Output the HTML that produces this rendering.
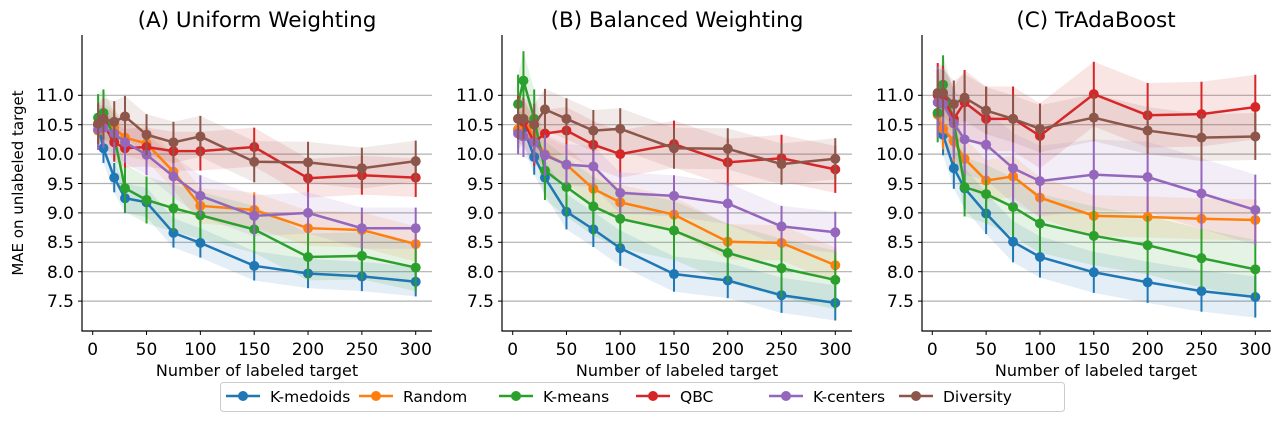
<!DOCTYPE html>
<html><head><meta charset="utf-8"><style>
html,body{margin:0;padding:0;background:#fff}
svg{display:block;font-family:"DejaVu Sans","Liberation Sans",sans-serif}
</style></head><body>
<svg id="s" width="1287" height="426" viewBox="0 0 1287 426" xmlns="http://www.w3.org/2000/svg">
<g id="grid"></g>
<g id="data"></g>
<g id="axes" stroke="#000" stroke-width="1.2" fill="none">
<path d="M82,35V331H432"/><path d="M502,35V331H852"/><path d="M922,35V331H1271"/>
</g>
<g font-size="21.5" text-anchor="middle" fill="#000">
<text x="257" y="27">(A) Uniform Weighting</text>
<text x="677" y="27">(B) Balanced Weighting</text>
<text x="1096" y="27">(C) TrAdaBoost</text>
</g>
<g font-size="16" text-anchor="middle" fill="#000">
<text x="257" y="376">Number of labeled target</text>
<text x="677" y="376">Number of labeled target</text>
<text x="1096" y="376">Number of labeled target</text>
<text transform="translate(23,183) rotate(-90)" font-size="15">MAE on unlabeled target</text>
</g>
<g id="legend">
<rect x="220.5" y="382.5" width="844" height="29" rx="3" fill="#fff" stroke="#ccc"/>
<g font-size="15.5" fill="#000">
<text x="270" y="402">K-medoids</text>
<text x="403" y="402">Random</text>
<text x="543" y="402">K-means</text>
<text x="680" y="402">QBC</text>
<text x="813" y="402">K-centers</text>
<text x="943" y="402">Diversity</text>
</g>
</g>
<g font-size="17" text-anchor="end" fill="#000">
<text x="74" y="101">11.0</text><text x="74" y="131">10.5</text><text x="74" y="160">10.0</text><text x="74" y="190">9.5</text><text x="74" y="219">9.0</text><text x="74" y="248">8.5</text><text x="74" y="278">8.0</text><text x="74" y="307">7.5</text>
<text x="494" y="101">11.0</text><text x="494" y="131">10.5</text><text x="494" y="160">10.0</text><text x="494" y="190">9.5</text><text x="494" y="219">9.0</text><text x="494" y="248">8.5</text><text x="494" y="278">8.0</text><text x="494" y="307">7.5</text>
<text x="914" y="101">11.0</text><text x="914" y="131">10.5</text><text x="914" y="160">10.0</text><text x="914" y="190">9.5</text><text x="914" y="219">9.0</text><text x="914" y="248">8.5</text><text x="914" y="278">8.0</text><text x="914" y="307">7.5</text>
</g>
<g font-size="17" text-anchor="middle" fill="#000">
<text x="92.7" y="355">0</text><text x="146.5" y="355">50</text><text x="200.4" y="355">100</text><text x="254.2" y="355">150</text><text x="308" y="355">200</text><text x="361.9" y="355">250</text><text x="415.7" y="355">300</text>
<text x="512.7" y="355">0</text><text x="566.5" y="355">50</text><text x="620.2" y="355">100</text><text x="674" y="355">150</text><text x="727.8" y="355">200</text><text x="781.5" y="355">250</text><text x="835.3" y="355">300</text>
<text x="932.3" y="355">0</text><text x="986.1" y="355">50</text><text x="1040" y="355">100</text><text x="1093.8" y="355">150</text><text x="1147.6" y="355">200</text><text x="1201.5" y="355">250</text><text x="1255.3" y="355">300</text>
</g>
</svg>
<script>
const NS="http://www.w3.org/2000/svg";
const C=["#1f77b4","#ff7f0e","#2ca02c","#d62728","#9467bd","#8c564b"];
const X=[5,10,20,30,50,75,100,150,200,250,300];
const P=[
 {l:82,r:432,x0:92.7,k:1.0767,d:[
  [10.5,10.1,9.6,9.25,9.18,8.66,8.49,8.1,7.97,7.92,7.83],
  [10.4,10.55,10.45,10.28,10.18,9.7,9.12,9.05,8.74,8.71,8.47],
  [10.62,10.7,10.3,9.42,9.22,9.08,8.96,8.72,8.25,8.27,8.07],
  [10.5,10.5,10.2,10.1,10.12,10.05,10.05,10.12,9.59,9.64,9.6],
  [10.42,10.45,10.35,10.2,9.99,9.62,9.29,8.95,9.0,8.74,8.74],
  [10.52,10.6,10.55,10.64,10.33,10.2,10.3,9.87,9.86,9.76,9.88]],
  e:[0.25,0.3,0.4,0.33,0.35,0.35]},
 {l:502,r:852,x0:512.7,k:1.0753,d:[
  [10.4,10.45,9.95,9.6,9.02,8.72,8.4,7.96,7.85,7.6,7.47],
  [10.42,10.6,10.3,10.0,9.82,9.41,9.18,8.97,8.51,8.49,8.11],
  [10.85,11.25,10.6,9.72,9.44,9.11,8.9,8.7,8.32,8.06,7.86],
  [10.6,10.55,10.2,10.35,10.4,10.16,10.0,10.17,9.86,9.93,9.74],
  [10.35,10.3,10.2,9.98,9.82,9.79,9.34,9.29,9.16,8.77,8.67],
  [10.6,10.6,10.5,10.76,10.6,10.4,10.43,10.1,10.09,9.83,9.92]],
  e:[0.3,0.3,0.5,0.4,0.35,0.35]},
 {l:922,r:1271,x0:932.3,k:1.0767,d:[
  [10.7,10.33,9.76,9.42,8.99,8.51,8.25,7.99,7.82,7.67,7.57],
  [10.67,10.43,10.22,9.92,9.55,9.62,9.26,8.95,8.93,8.9,8.88],
  [10.7,11.18,10.55,9.44,9.32,9.1,8.82,8.61,8.45,8.23,8.04],
  [11.0,10.95,10.6,10.88,10.6,10.6,10.31,11.02,10.66,10.68,10.8],
  [10.88,10.85,10.52,10.25,10.16,9.76,9.54,9.65,9.61,9.33,9.05],
  [11.04,11.04,10.85,10.96,10.74,10.6,10.43,10.62,10.4,10.28,10.3]],
  e:[0.35,0.35,0.5,0.55,0.6,0.4]}
];
const Y=v=>95.3+(11-v)*58.8;
function el(t,a,p){const e=document.createElementNS(NS,t);for(const k in a)e.setAttribute(k,a[k]);p.appendChild(e);return e;}
const G=document.getElementById("grid"),D=document.getElementById("data");
const yt=[7.5,8,8.5,9,9.5,10,10.5,11];
P.forEach(p=>{
 yt.forEach(v=>{el("line",{x1:p.l,x2:p.r,y1:Y(v),y2:Y(v),stroke:"#b0b0b0","stroke-width":1.2},G);
  el("line",{x1:p.l-4,x2:p.l,y1:Y(v),y2:Y(v),stroke:"#000"},G);});
 [0,50,100,150,200,250,300].forEach(t=>{const x=p.x0+t*p.k;el("line",{x1:x,x2:x,y1:331,y2:335,stroke:"#000"},G);});
 const px=t=>p.x0+t*p.k;
 p.d.forEach((s,i)=>{const e=p.e[i];
  let up=s.map((v,j)=>px(X[j])+","+Y(v+e)).join(" ");
  let dn=s.map((v,j)=>px(X[j])+","+Y(v-e)).reverse().join(" ");
  el("polygon",{points:up+" "+dn,fill:C[i],"fill-opacity":0.12},D);});
 p.d.forEach((s,i)=>{const e=p.e[i];
  s.forEach((v,j)=>el("line",{x1:px(X[j]),x2:px(X[j]),y1:Y(v+e),y2:Y(v-e),stroke:C[i],"stroke-width":2},D));
  el("polyline",{points:s.map((v,j)=>px(X[j])+","+Y(v)).join(" "),fill:"none",stroke:C[i],"stroke-width":2.5},D);
  s.forEach((v,j)=>el("circle",{cx:px(X[j]),cy:Y(v),r:5,fill:C[i]},D));});
});
const L=document.getElementById("legend");
[226,359,499,636,769,899].forEach((x,i)=>{el("line",{x1:x,x2:x+34,y1:396,y2:396,stroke:C[i],"stroke-width":2.5},L);el("circle",{cx:x+17,cy:396,r:5,fill:C[i]},L);});
</script>
</body></html>
